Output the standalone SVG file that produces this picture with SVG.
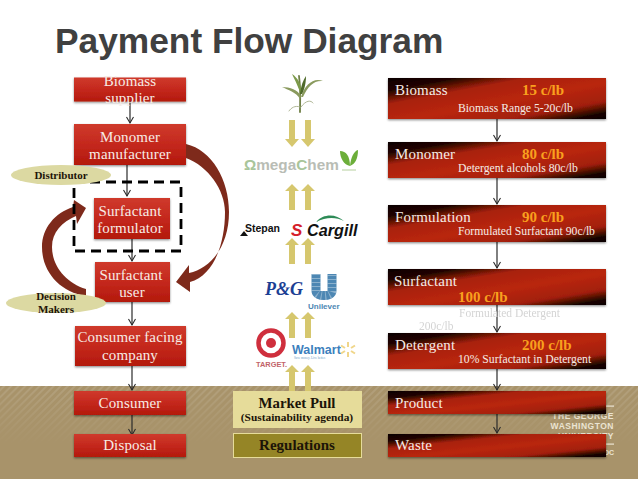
<svg xmlns="http://www.w3.org/2000/svg" width="638" height="479" viewBox="0 0 638 479">
<style>
svg{font-family:"Liberation Serif","DejaVu Serif",serif}
.lb{fill:url(#redV);filter:url(#sh)}
.rb{fill:url(#redD);filter:url(#sh)}
.w{fill:#f7ece6;font-size:15px;text-anchor:middle;letter-spacing:.15px}
.rt{fill:#f5ece6;font-size:15px;letter-spacing:.15px}
.pr{fill:#f9a01e;font-size:15px;font-weight:bold}
.sm{fill:#f5ece6;font-size:11.7px}
.k{fill:#1c1408;font-weight:bold;text-anchor:middle}
.c{stroke:#2a2a2a;stroke-width:1.2;fill:none;marker-end:url(#open)}
.g{fill:#d6c76e}
.sans{font-family:"Liberation Sans",Arial,sans-serif;font-weight:bold}
</style>
<defs>
<linearGradient id="redV" x1="0" y1="0" x2="0" y2="1"><stop offset="0" stop-color="#cf3a2c"/><stop offset=".5" stop-color="#c4281d"/><stop offset="1" stop-color="#b3190c"/></linearGradient>
<linearGradient id="redD" x1="0" y1="0" x2="1" y2="1"><stop offset="0" stop-color="#0a0302"/><stop offset=".16" stop-color="#220603"/><stop offset=".32" stop-color="#a82108"/><stop offset=".55" stop-color="#b9260a"/><stop offset=".78" stop-color="#a21f08"/><stop offset=".92" stop-color="#1a0602"/><stop offset="1" stop-color="#0a0302"/></linearGradient>
<linearGradient id="fade" x1="0" y1="0" x2="0" y2="1"><stop offset="0" stop-color="#fff"/><stop offset="1" stop-color="#000"/></linearGradient>
<mask id="hm" maskUnits="userSpaceOnUse" x="0" y="386" width="638" height="60"><rect y="386" width="638" height="60" fill="url(#fade)"/></mask>
<pattern id="hatch" width="5" height="5" patternUnits="userSpaceOnUse" patternTransform="rotate(45)"><rect width="2" height="5" fill="#fff" fill-opacity=".12"/></pattern>
<filter id="sh" x="-5%" y="-10%" width="110%" height="125%"><feDropShadow dx="0" dy="1.2" stdDeviation="1" flood-color="#000" flood-opacity=".45"/></filter>
<filter id="soft"><feGaussianBlur stdDeviation=".45"/></filter>
<marker id="open" markerWidth="10" markerHeight="10" refX="7" refY="4" orient="auto" markerUnits="userSpaceOnUse"><path d="M1 .5L7 4L1 7.5" fill="none" stroke="#2a2a2a" stroke-width="1.1"/></marker>
<path id="up" d="M-3 26V7H-7L0 0L7 7H3V26Z"/>
<path id="dn" d="M-3 0V19H-7L0 27L7 19H3V0Z"/>
</defs>
<rect width="638" height="479" fill="#fff"/>
<rect id="ground" y="386" width="638" height="93" fill="#a8936a"/>
<rect y="386" width="638" height="60" fill="url(#hatch)" mask="url(#hm)"/>
<g id="watermark" fill="#ebe4d2" text-anchor="end">
<rect x="552" y="405.500" width="62" height="1.200"/>
<text class="sans" x="614" y="419" font-size="8.500" letter-spacing=".5">THE GEORGE</text>
<text class="sans" x="614" y="429" font-size="8.500" letter-spacing=".5">WASHINGTON</text>
<text class="sans" x="614" y="439" font-size="8.500" letter-spacing=".5">UNIVERSITY</text>
<rect x="552" y="443.500" width="62" height="1.200"/>
<text class="sans" x="614" y="455" font-size="7">DC</text>
</g>
<text id="title" x="55" y="53" class="sans" font-size="35.300" fill="#404040">Payment Flow Diagram</text>

<g id="connectors">
<line class="c" x1="130" y1="101" x2="130" y2="123"/>
<line class="c" x1="127" y1="165" x2="127" y2="196"/>
<line class="c" x1="132" y1="239" x2="132" y2="261"/>
<line class="c" x1="132" y1="302" x2="132" y2="325"/>
<line class="c" x1="132" y1="366" x2="132" y2="390"/>
<line class="c" x1="132" y1="415" x2="132" y2="435"/>
<line class="c" x1="497" y1="119" x2="497" y2="141"/>
<line class="c" x1="497" y1="178" x2="497" y2="204"/>
<line class="c" x1="497" y1="242" x2="497" y2="268"/>
<line class="c" x1="497" y1="305" x2="497" y2="332"/>
<line class="c" x1="497" y1="369" x2="497" y2="390"/>
<line class="c" x1="497" y1="414" x2="497" y2="433"/>
</g>

<g id="ghost-labels" fill="#d4d4d4" font-size="11.500" filter="url(#soft)">
<text x="459" y="317">Formulated Detergent</text>
<text x="419" y="330">200c/lb</text>
</g>

<g id="node-biomass-supplier"><rect class="lb" x="74" y="77.500" width="112" height="24"/><text class="w" x="130" y="86">Biomass</text><text class="w" x="130" y="103">supplier</text></g>
<g id="node-monomer-manufacturer"><rect class="lb" x="74" y="124" width="112" height="41"/><text class="w" x="130" y="142">Monomer</text><text class="w" x="130" y="159">manufacturer</text></g>
<g id="node-surfactant-formulator"><rect class="lb" x="94" y="198" width="76" height="41"/><text class="w" x="130" y="216">Surfactant</text><text class="w" x="130" y="233">formulator</text></g>
<g id="node-surfactant-user"><rect class="lb" x="95" y="262" width="75" height="40"/><text class="w" x="131" y="280">Surfactant</text><text class="w" x="132" y="297">user</text></g>
<g id="node-consumer-facing"><rect class="lb" x="75" y="326" width="111" height="40"/><text class="w" x="130" y="342">Consumer facing</text><text class="w" x="130" y="360">company</text></g>
<g id="node-consumer"><rect class="lb" x="74" y="391" width="112" height="24"/><text class="w" x="130" y="408">Consumer</text></g>
<g id="node-disposal"><rect class="lb" x="74" y="434" width="112" height="23"/><text class="w" x="130" y="450">Disposal</text></g>

<g id="curve-right"><path d="M186 144C212 150 229 180 229 212C229 245 212 268 189 273V265L176 282L190 292V282C213 276 225 245 225 212C225 190 208 166 186 158Z" fill="#7e2a1b"/></g>
<g id="curve-left"><path d="M86 296C60 292 42 272 42 247C42 228 55 213 73 207L74 200L86 208L77 224L76 216C62 222 52 232 52 247C52 266 66 283 86 289Z" fill="#7e2a1b"/></g>
<rect id="dashed-box" x="74" y="182" width="107" height="69" fill="none" stroke="#000" stroke-width="2.800" stroke-dasharray="10 6"/>

<g id="node-distributor"><ellipse cx="61" cy="175" rx="50" ry="10" fill="#dcd9a2"/><text class="k" x="61" y="179" font-size="11">Distributor</text></g>
<g id="node-decision-makers"><ellipse cx="56" cy="303" rx="50" ry="10" fill="#dcd9a2"/><text class="k" x="56" y="300" font-size="11">Decision</text><text class="k" x="56" y="313" font-size="11">Makers</text></g>

<g id="node-r-biomass"><rect class="rb" x="388" y="78" width="218" height="41"/><text class="rt" x="395" y="95">Biomass</text><text class="pr" x="522" y="95">15 c/lb</text><text class="sm" x="458" y="112">Biomass Range 5-20c/lb</text></g>
<g id="node-r-monomer"><rect class="rb" x="388" y="142" width="218" height="36"/><text class="rt" x="395" y="159">Monomer</text><text class="pr" x="522" y="159">80 c/lb</text><text class="sm" x="458" y="172">Detergent alcohols 80c/lb</text></g>
<g id="node-r-formulation"><rect class="rb" x="388" y="205" width="218" height="37"/><text class="rt" x="395" y="222">Formulation</text><text class="pr" x="522" y="222">90 c/lb</text><text class="sm" x="458" y="235">Formulated Surfactant 90c/lb</text></g>
<g id="node-r-surfactant"><rect class="rb" x="388" y="269" width="218" height="36"/><text class="rt" x="394" y="286">Surfactant</text><text class="pr" x="458" y="302">100 c/lb</text></g>
<g id="node-r-detergent"><rect class="rb" x="388" y="333" width="218" height="36"/><text class="rt" x="395" y="350">Detergent</text><text class="pr" x="522" y="350">200 c/lb</text><text class="sm" x="458" y="363">10% Surfactant in Detergent</text></g>
<g id="node-r-product"><rect class="rb" x="388" y="391" width="218" height="23"/><text class="rt" x="395" y="408">Product</text></g>
<g id="node-r-waste"><rect class="rb" x="388" y="434" width="218" height="23"/><text class="rt" x="395" y="450">Waste</text></g>

<g id="gold-arrows" class="g">
<use href="#dn" x="292" y="120"/><use href="#dn" x="308" y="120"/>
<use href="#up" x="292" y="184"/><use href="#up" x="308" y="184"/>
<use href="#up" x="292" y="238"/><use href="#up" x="308" y="238"/>
<use href="#up" x="292" y="312"/><use href="#up" x="308" y="312"/>
<use href="#up" x="292" y="365"/><use href="#up" x="308" y="365"/>
</g>

<g id="node-market-pull"><rect x="233" y="391" width="129" height="37" fill="#e6dc9a"/><text class="k" x="297" y="408" font-size="14.800">Market Pull</text><text class="k" x="297" y="421" font-size="11.400">(Sustainability agenda)</text></g>
<g id="node-regulations"><rect x="233.500" y="433.500" width="128" height="24" fill="#958526" stroke="#e6dc9a" stroke-width="1"/><text class="k" x="297" y="450" font-size="15">Regulations</text></g>

<g id="logo-plant" stroke-linecap="round">
<path d="M300 112C300 100 301 92 299 76" stroke="#6f7f45" stroke-width="1.800" fill="none"/>
<path d="M301 97C305 84 314 77 323 81C314 80 308 86 303 97Z" fill="#8a9a5e"/>
<path d="M300 99C296 92 288 90 282 87C290 87 298 90 301 96Z" fill="#8a9a5e"/>
<path d="M300 92C297 84 294 78 292 74C298 78 301 84 302 92Z" fill="#7c9a4a"/>
<path d="M300 94C301 86 303 80 306 76C306 84 304 90 302 94Z" fill="#4f6a2a"/>
<path d="M300 107C295 105 291 108 289 111M301 107C306 100 311 100 313 103" stroke="#a8b08c" stroke-width=".9" fill="none"/>
</g>
<g id="logo-omegachem">
<text x="244" y="170" class="sans" font-size="15.300" fill="#b9bdb5"><tspan fill="#a9c59a">Ω</tspan>mega<tspan fill="#a9c59a">C</tspan>hem</text>
<path d="M340 151C346 151 350 156 350 166C344 165 340 158 340 151ZM350 166C351 157 354 151 358 150C358 159 355 164 350 166Z" fill="#6cae3a"/>
<path d="M342 170H356" stroke="#b5cf9e" stroke-width="1"/>
</g>
<g id="logo-stepan">
<text x="245" y="232" class="sans" font-size="10.500" fill="#111">Stepan</text>
<path d="M240 236L244 231L248 236Z" fill="#111"/>
<text x="291" y="236" class="sans" font-size="17" font-style="italic" fill="#d5202a">S</text>
</g>
<g id="logo-cargill">
<text x="307" y="236" class="sans" font-size="16.200" font-style="italic" fill="#111">Cargill</text>
<path d="M316 222C324 213 336 214 344 221C336 217 326 217 316 222Z" fill="#2e8b57"/>
</g>
<g id="logo-pg"><text x="265" y="295" font-size="18" font-weight="bold" font-style="italic" fill="#1d3f94">P&amp;G</text></g>
<g id="logo-unilever">
<path d="M316 274V291C316 297 332 297 332 291V274" fill="none" stroke="#4d87b3" stroke-width="9"/>
<path d="M316 274V291C316 297 332 297 332 291V274" fill="none" stroke="#fff" stroke-width="9" stroke-dasharray="1 3" opacity=".35"/>
<text x="308" y="309" class="sans" font-size="8" fill="#4d87b3">Unilever</text>
</g>
<g id="logo-target">
<circle cx="271" cy="343" r="12.500" fill="none" stroke="#cf2f3d" stroke-width="4.500"/>
<circle cx="271" cy="343" r="5" fill="#cf2f3d"/>
<text x="256" y="367" class="sans" font-size="7.400" fill="#c2646a">TARGET.</text>
</g>
<g id="logo-walmart">
<text x="292" y="354" class="sans" font-size="12.500" fill="#3d7fbd">Walmart</text>
<text x="294" y="359" font-size="3.200" fill="#6c9bc6">Save money. Live better.</text>
<path d="M348 342V347M348 352V357M341 345.500L345 348M351 351L355 353.500M341 353.500L345 351M351 348L355 345.500" stroke="#f0d68a" stroke-width="2"/>
</g>
</svg>
